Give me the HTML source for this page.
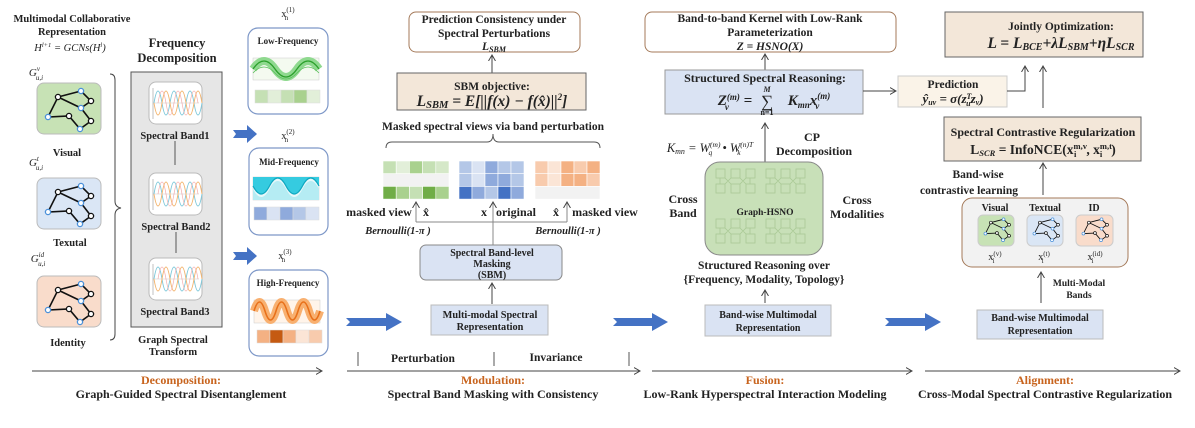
<!DOCTYPE html>
<html><head><meta charset="utf-8"><style>
html,body{margin:0;padding:0;background:#fff}
svg{display:block}
text{font-family:"Liberation Serif",serif;font-weight:bold;fill:#222;text-anchor:middle}
.it{font-style:italic}
.n{font-weight:normal}
</style></head><body>
<svg width="1195" height="428" viewBox="0 0 1195 428" xmlns="http://www.w3.org/2000/svg">
<defs>
<marker id="ah" markerWidth="8" markerHeight="8" refX="6" refY="4" orient="auto" markerUnits="userSpaceOnUse"><path d="M0,0.5 L6,4 L0,7.5" fill="none" stroke="#444" stroke-width="1"/></marker>
<g id="gr">
<path d="M18,12 L41,6 L51,16 L41,23 L51,36 L40,44 L29,31 L8,32 Z M18,12 L41,23" fill="none" stroke="#111" stroke-width="1.6"/>
<circle cx="18" cy="12" r="2.6" fill="#fff" stroke="#111" stroke-width="1.3"/>
<circle cx="51" cy="16" r="2.6" fill="#fff" stroke="#111" stroke-width="1.3"/>
<circle cx="51" cy="36" r="2.6" fill="#fff" stroke="#111" stroke-width="1.3"/>
<circle cx="29" cy="31" r="2.6" fill="#fff" stroke="#111" stroke-width="1.3"/>
<circle cx="41" cy="6" r="2.6" fill="#fff" stroke="#4a90d9" stroke-width="1.3"/>
<circle cx="41" cy="23" r="2.6" fill="#fff" stroke="#4a90d9" stroke-width="1.3"/>
<circle cx="8" cy="32" r="2.6" fill="#fff" stroke="#4a90d9" stroke-width="1.3"/>
<circle cx="40" cy="44" r="2.6" fill="#fff" stroke="#4a90d9" stroke-width="1.3"/>
</g>
<g id="wv">
<rect x="0" y="0" width="53" height="42" rx="7" fill="#fff" stroke="#bbb"/>
<line x1="4" y1="6" x2="4" y2="37" stroke="#999" stroke-width="0.6"/>
<line x1="4" y1="21" x2="50" y2="21" stroke="#ccc" stroke-width="0.6"/>
<path d="M5,21 q4,-24 8,0 t8,0 t8,0 t8,0 t8,0 t8,0" fill="none" stroke="#7cc7d9" stroke-width="0.9"/>
<path d="M5,21 q4,24 8,0 t8,0 t8,0 t8,0 t8,0 t8,0" fill="none" stroke="#f2b36b" stroke-width="0.9"/>
<path d="M9,21 q4,-24 8,0 t8,0 t8,0 t8,0 t8,0" fill="none" stroke="#e88" stroke-width="0.7" opacity="0.7"/>
</g>
<g id="hs">
<rect x="0" y="0" width="9" height="9" fill="none" stroke="#a9c995" stroke-width="0.8"/>
<rect x="15" y="0" width="9" height="9" fill="none" stroke="#a9c995" stroke-width="0.8"/>
<rect x="30" y="0" width="9" height="9" fill="none" stroke="#a9c995" stroke-width="0.8"/>
<rect x="0" y="15" width="9" height="9" fill="none" stroke="#a9c995" stroke-width="0.8"/>
<rect x="15" y="15" width="9" height="9" fill="none" stroke="#a9c995" stroke-width="0.8"/>
<rect x="30" y="15" width="9" height="9" fill="none" stroke="#a9c995" stroke-width="0.8"/>
<path d="M9,9 L15,15 M9,15 L15,9 M24,9 L30,15 M24,15 L30,9 M4,9 V15 M34,9 V15" stroke="#a9c995" stroke-width="0.8"/>
</g>
<g id="ba"><path d="M0,-4 H40 V-9 L56,0 L40,9 V4 H0 L4,0 Z" fill="#4472c4"/></g>
<g id="sa"><path d="M0,-4 H14 V-9 L24,0 L14,9 V4 H0 L3,0 Z" fill="#4472c4"/></g>
</defs>

<!-- ============ Section 1 ============ -->
<text x="72" y="22" font-size="10.5">Multimodal Collaborative</text>
<text x="72" y="35" font-size="10.5">Representation</text>
<text x="70" y="51" font-size="10.5" class="it n">H<tspan font-size="6.5" dy="-4">l+1</tspan><tspan dy="4"> = GCNs(H</tspan><tspan font-size="6.5" dy="-4">l</tspan><tspan dy="4">)</tspan></text>
<text x="36" y="76" font-size="11" class="it n">G<tspan font-size="7" dy="-5">v</tspan><tspan font-size="7" dx="-4" dy="9">u,i</tspan></text>
<text x="36" y="166" font-size="11" class="it n">G<tspan font-size="7" dy="-5">t</tspan><tspan font-size="7" dx="-3" dy="9">u,i</tspan></text>
<text x="38" y="262" font-size="11" class="it n">G<tspan font-size="7" dy="-5">id</tspan><tspan font-size="7" dx="-6" dy="9">u,i</tspan></text>
<rect x="37" y="83" width="64" height="51" rx="7" fill="#c7e2b5" stroke="#bbb"/>
<use href="#gr" x="40" y="85"/>
<rect x="37" y="178" width="64" height="51" rx="7" fill="#dae6f5" stroke="#bbb"/>
<use href="#gr" x="40" y="180"/>
<rect x="37" y="276" width="64" height="51" rx="7" fill="#f9dccb" stroke="#bbb"/>
<use href="#gr" x="40" y="278"/>
<text x="67" y="156" font-size="10.5">Visual</text>
<text x="70" y="246" font-size="10.5">Texutal</text>
<text x="68" y="346" font-size="10.5">Identity</text>
<path d="M110,74 q5,0 5,6 V201 q0,6 6,7 q-6,1 -6,7 V334 q0,6 -5,6" fill="none" stroke="#444" stroke-width="1"/>
<text x="177" y="47" font-size="12.5">Frequency</text>
<text x="177" y="62" font-size="12.5">Decomposition</text>
<rect x="131" y="72" width="91" height="255" fill="#e6e6e6" stroke="#555" stroke-width="1"/>
<use href="#wv" x="149" y="82"/>
<use href="#wv" x="149" y="173"/>
<use href="#wv" x="149" y="258"/>
<text x="175" y="139" font-size="10.5">Spectral Band1</text>
<text x="176" y="230" font-size="10.5">Spectral Band2</text>
<text x="175" y="315" font-size="10.5">Spectral Band3</text>
<line x1="175" y1="141" x2="175" y2="165" stroke="#555"/>
<line x1="176" y1="232" x2="176" y2="253" stroke="#555"/>
<text x="173" y="343" font-size="10.5">Graph Spectral</text>
<text x="173" y="355" font-size="10.5">Transform</text>
<use href="#sa" x="233" y="134"/>
<use href="#sa" x="233" y="256"/>

<text x="288" y="17" font-size="10" class="n">x<tspan font-size="7" dy="-5">(1)</tspan><tspan font-size="7" dx="-10" dy="8">n</tspan></text>
<text x="288" y="139" font-size="10" class="n">x<tspan font-size="7" dy="-5">(2)</tspan><tspan font-size="7" dx="-10" dy="8">n</tspan></text>
<text x="285" y="259" font-size="10" class="n">x<tspan font-size="7" dy="-5">(3)</tspan><tspan font-size="7" dx="-10" dy="8">n</tspan></text>

<rect x="248" y="28" width="80" height="86" rx="10" fill="#fff" stroke="#7e98c8" stroke-width="1.2"/>
<text x="288" y="44" font-size="9">Low-Frequency</text>
<rect x="253" y="58" width="66" height="22" fill="#f4faf0" stroke="#ccc" stroke-width="0.5"/>
<path d="M253,69 q11,-16 22,0 t22,0 t22,0" fill="none" stroke="#8fd98f" stroke-width="8"/>
<path d="M253,69 q11,-16 22,0 t22,0 t22,0" fill="none" stroke="#2ca02c" stroke-width="1.3"/>
<path d="M253,73 q11,-12 22,0 t22,0 t22,0" fill="none" stroke="#5cbf5c" stroke-width="0.8"/>
<g stroke="#ddd" stroke-width="0.5">
<rect x="255" y="90" width="13" height="13" fill="#c5e0b4"/><rect x="268" y="90" width="13" height="13" fill="#e2efd9"/><rect x="281" y="90" width="13" height="13" fill="#c5e0b4"/><rect x="294" y="90" width="13" height="13" fill="#a9d18e"/><rect x="307" y="90" width="13" height="13" fill="#e2efd9"/></g>

<rect x="249" y="148" width="79" height="87" rx="10" fill="#fff" stroke="#7e98c8" stroke-width="1.2"/>
<text x="289" y="165" font-size="9">Mid-Frequency</text>
<rect x="253" y="177" width="66" height="23" fill="#e8f8fa" stroke="#ccc" stroke-width="0.5"/>
<path d="M253,186 q8.25,16 16.5,0 t16.5,0 t16.5,0 t16.5,0 V177 H253 Z" fill="#35cbe0"/>
<path d="M253,189 q8.25,16 16.5,0 t16.5,0 t16.5,0 t16.5,0 V200 H253 Z" fill="#b5ecf3"/>
<path d="M253,186 q8.25,16 16.5,0 t16.5,0 t16.5,0 t16.5,0" fill="none" stroke="#10a8c0" stroke-width="1.2"/>
<g stroke="#ddd" stroke-width="0.5">
<rect x="254" y="207" width="13" height="13" fill="#8faadc"/><rect x="267" y="207" width="13" height="13" fill="#dae3f3"/><rect x="280" y="207" width="13" height="13" fill="#8faadc"/><rect x="293" y="207" width="13" height="13" fill="#b4c7e7"/><rect x="306" y="207" width="13" height="13" fill="#dae3f3"/></g>

<rect x="249" y="270" width="79" height="86" rx="10" fill="#fff" stroke="#7e98c8" stroke-width="1.2"/>
<text x="288" y="286" font-size="9">High-Frequency</text>
<rect x="254" y="300" width="66" height="23" fill="#fff4ea" stroke="#ccc" stroke-width="0.5"/>
<path d="M254,311 q5.5,-18 11,0 t11,0 t11,0 t11,0 t11,0 t11,0" fill="none" stroke="#f8b070" stroke-width="8"/>
<path d="M254,311 q5.5,-18 11,0 t11,0 t11,0 t11,0 t11,0 t11,0" fill="none" stroke="#e8701a" stroke-width="1.6"/>
<g stroke="#ddd" stroke-width="0.5">
<rect x="257" y="330" width="13" height="13" fill="#f4b183"/><rect x="270" y="330" width="13" height="13" fill="#c55a11"/><rect x="283" y="330" width="13" height="13" fill="#f4b183"/><rect x="296" y="330" width="13" height="13" fill="#fbe5d6"/><rect x="309" y="330" width="13" height="13" fill="#f8cbad"/></g>

<line x1="32" y1="371" x2="322" y2="371" stroke="#444" marker-end="url(#ah)"/>
<text x="181" y="384" font-size="12" style="fill:#c8641e">Decomposition:</text>
<text x="181" y="398" font-size="12">Graph-Guided Spectral Disentanglement</text>

<!-- ============ Section 2 ============ -->
<rect x="409" y="12" width="171" height="40" rx="7" fill="#fff" stroke="#a47a5a"/>
<text x="494" y="23" font-size="11.5">Prediction Consistency under</text>
<text x="494" y="37" font-size="11.5">Spectral Perturbations</text>
<text x="494" y="50" font-size="11.5" class="it">L<tspan font-size="8" dy="2">SBM</tspan></text>
<line x1="492" y1="73" x2="492" y2="55" stroke="#444" marker-end="url(#ah)"/>
<rect x="397" y="73" width="189" height="37" fill="#f3e7d9" stroke="#666"/>
<text x="492" y="90" font-size="11.5">SBM objective:</text>
<text x="492" y="106" font-size="15.5" class="it">L<tspan font-size="10.5" dy="2">SBM</tspan><tspan dy="-2"> = E[||f(x) − f(x̂)||</tspan><tspan font-size="9" dy="-6">2</tspan><tspan dy="6">]</tspan></text>
<text x="493" y="130" font-size="11.5">Masked spectral views via band perturbation</text>
<path d="M386,148 q0,-6 6,-6 H487 q6,0 6,-8 q0,8 6,8 H594 q6,0 6,6" fill="none" stroke="#555"/>
<g stroke="#fff" stroke-width="0.6">
<rect x="383" y="161" width="13.2" height="12.7" fill="#c5e0b4"/><rect x="396.2" y="161" width="13.2" height="12.7" fill="#e2efd9"/><rect x="409.4" y="161" width="13.2" height="12.7" fill="#a9d18e"/><rect x="422.6" y="161" width="13.2" height="12.7" fill="#c5e0b4"/><rect x="435.8" y="161" width="13.2" height="12.7" fill="#d5e8c8"/>
<rect x="383" y="173.7" width="66" height="12.7" fill="#f2f2f2"/>
<rect x="383" y="186.4" width="13.2" height="12.7" fill="#70ad47"/><rect x="396.2" y="186.4" width="13.2" height="12.7" fill="#a9d18e"/><rect x="409.4" y="186.4" width="13.2" height="12.7" fill="#c5e0b4"/><rect x="422.6" y="186.4" width="13.2" height="12.7" fill="#70ad47"/><rect x="435.8" y="186.4" width="13.2" height="12.7" fill="#a9d18e"/>
<rect x="459" y="161" width="13" height="12.7" fill="#b4c7e7"/><rect x="472" y="161" width="13" height="12.7" fill="#dae3f3"/><rect x="485" y="161" width="13" height="12.7" fill="#8faadc"/><rect x="498" y="161" width="13" height="12.7" fill="#b4c7e7"/><rect x="511" y="161" width="13" height="12.7" fill="#b4c7e7"/>
<rect x="459" y="173.7" width="13" height="12.7" fill="#b4c7e7"/><rect x="472" y="173.7" width="13" height="12.7" fill="#dae3f3"/><rect x="485" y="173.7" width="13" height="12.7" fill="#8faadc"/><rect x="498" y="173.7" width="13" height="12.7" fill="#8faadc"/><rect x="511" y="173.7" width="13" height="12.7" fill="#b4c7e7"/>
<rect x="459" y="186.4" width="13" height="12.7" fill="#4472c4"/><rect x="472" y="186.4" width="13" height="12.7" fill="#8faadc"/><rect x="485" y="186.4" width="13" height="12.7" fill="#b4c7e7"/><rect x="498" y="186.4" width="13" height="12.7" fill="#4472c4"/><rect x="511" y="186.4" width="13" height="12.7" fill="#8faadc"/>
<rect x="535" y="161" width="13" height="12.7" fill="#f8cbad"/><rect x="548" y="161" width="13" height="12.7" fill="#fbe5d6"/><rect x="561" y="161" width="13" height="12.7" fill="#f4b183"/><rect x="574" y="161" width="13" height="12.7" fill="#f8cbad"/><rect x="587" y="161" width="13" height="12.7" fill="#f4b183"/>
<rect x="535" y="173.7" width="13" height="12.7" fill="#f8cbad"/><rect x="548" y="173.7" width="13" height="12.7" fill="#fbe5d6"/><rect x="561" y="173.7" width="13" height="12.7" fill="#f4b183"/><rect x="574" y="173.7" width="13" height="12.7" fill="#f4b183"/><rect x="587" y="173.7" width="13" height="12.7" fill="#f8cbad"/>
<rect x="535" y="186.4" width="65" height="12.7" fill="#f2f2f2"/>
</g>
<path d="M416,222 H567" fill="none" stroke="#888"/>
<line x1="416" y1="222" x2="416" y2="202" stroke="#888" marker-end="url(#ah)"/>
<line x1="567" y1="222" x2="567" y2="202" stroke="#888" marker-end="url(#ah)"/>
<line x1="493" y1="245" x2="493" y2="202" stroke="#888" marker-end="url(#ah)"/>
<text x="379" y="216" font-size="12">masked view</text>
<text x="426" y="216" font-size="12">x̂</text>
<text x="484" y="216" font-size="12">x</text>
<text x="516" y="216" font-size="12">original</text>
<text x="556" y="216" font-size="12">x̂</text>
<text x="605" y="216" font-size="12">masked view</text>
<text x="398" y="234" font-size="10.5" class="it">Bernoulli(1-π )</text>
<text x="568" y="234" font-size="10.5" class="it">Bernoulli(1-π )</text>
<rect x="420" y="245" width="142" height="35" rx="6" fill="#dae3f3" stroke="#888"/>
<text x="492" y="256" font-size="10">Spectral Band-level</text>
<text x="492" y="267" font-size="10">Masking</text>
<text x="492" y="278" font-size="10">(SBM)</text>
<line x1="492" y1="304" x2="492" y2="283" stroke="#444" marker-end="url(#ah)"/>
<rect x="431" y="305" width="117" height="30" fill="#dae3f3" stroke="#bbb"/>
<text x="490" y="318" font-size="10.3">Multi-modal Spectral</text>
<text x="490" y="330" font-size="10.3">Representation</text>
<use href="#ba" x="346" y="322"/>
<path d="M613,318 H652 V313 L668,322 L652,331 V326 H613 L617,322 Z" fill="#4472c4"/>
<line x1="358" y1="352" x2="358" y2="366" stroke="#555"/>
<line x1="494" y1="352" x2="494" y2="366" stroke="#555"/>
<line x1="629" y1="352" x2="629" y2="366" stroke="#555"/>
<text x="423" y="362" font-size="11.5">Perturbation</text>
<text x="556" y="361" font-size="11.5">Invariance</text>
<line x1="347" y1="371" x2="640" y2="371" stroke="#444" marker-end="url(#ah)"/>
<text x="493" y="384" font-size="12" style="fill:#c8641e">Modulation:</text>
<text x="493" y="398" font-size="12">Spectral Band Masking with Consistency</text>

<!-- ============ Section 3 ============ -->
<rect x="645" y="12" width="251" height="40" rx="7" fill="#fff" stroke="#a47a5a"/>
<text x="770" y="22" font-size="11.5">Band-to-band Kernel with Low-Rank</text>
<text x="770" y="36" font-size="11.5">Parameterization</text>
<text x="770" y="50" font-size="11.5" class="it">Z = HSNO(X)</text>
<line x1="765" y1="70" x2="765" y2="54" stroke="#444" marker-end="url(#ah)"/>
<rect x="665" y="70" width="198" height="44" fill="#dae3f3" stroke="#999"/>
<text x="765" y="82" font-size="12">Structured Spectral Reasoning:</text>
<text x="735" y="105" font-size="15" class="it">Z<tspan font-size="9" dy="-5">(m)</tspan><tspan font-size="9" dx="-15" dy="10">v</tspan><tspan dx="11" dy="-5"> = </tspan></text>
<text x="767" y="107" font-size="17" class="n">∑</text>
<text x="767" y="92" font-size="8" class="it">M</text>
<text x="767" y="115" font-size="8">n=1</text>
<text x="809" y="105" font-size="15" class="it">K<tspan font-size="9" dy="3">mn</tspan><tspan dy="-3">x</tspan><tspan font-size="9" dy="-6">(m)</tspan><tspan font-size="9" dx="-15" dy="10">v</tspan></text>
<line x1="863" y1="91" x2="896" y2="91" stroke="#444" marker-end="url(#ah)"/>
<text x="710" y="152" font-size="12.5" class="n it">K<tspan font-size="8" dy="2">mn</tspan><tspan dy="-2"> = W</tspan><tspan font-size="7.5" dy="-5">(m)</tspan><tspan font-size="7.5" dx="-12" dy="8">q</tspan><tspan dx="7" dy="-3"> • W</tspan><tspan font-size="7.5" dy="-5">(n)T</tspan><tspan font-size="7.5" dx="-16" dy="8">k</tspan></text>
<text x="812" y="141" font-size="12">CP</text>
<text x="814" y="155" font-size="12">Decomposition</text>
<line x1="765" y1="162" x2="765" y2="123" stroke="#444" marker-end="url(#ah)"/>
<rect x="705" y="162" width="118" height="93" rx="15" fill="#c8e0b8" stroke="#888"/>
<use href="#hs" x="716" y="169"/><use href="#hs" x="766" y="169"/>
<use href="#hs" x="716" y="219"/><use href="#hs" x="766" y="219"/>
<text x="765" y="215" font-size="9.5">Graph-HSNO</text>
<text x="683" y="203" font-size="12">Cross</text>
<text x="683" y="217" font-size="12">Band</text>
<text x="857" y="204" font-size="12">Cross</text>
<text x="857" y="218" font-size="12">Modalities</text>
<text x="764" y="269" font-size="11.5">Structured Reasoning over</text>
<text x="764" y="283" font-size="11.5">{Frequency, Modality, Topology}</text>
<line x1="765" y1="303" x2="765" y2="290" stroke="#444" marker-end="url(#ah)"/>
<rect x="705" y="305" width="126" height="31" fill="#dae3f3" stroke="#bbb"/>
<text x="768" y="318" font-size="10">Band-wise Multimodal</text>
<text x="768" y="331" font-size="10">Representation</text>
<use href="#ba" x="885" y="322"/>
<line x1="652" y1="371" x2="912" y2="371" stroke="#444" marker-end="url(#ah)"/>
<text x="765" y="384" font-size="12" style="fill:#c8641e">Fusion:</text>
<text x="765" y="398" font-size="12">Low-Rank Hyperspectral Interaction Modeling</text>

<!-- ============ Section 4 ============ -->
<rect x="945" y="12" width="198" height="45" fill="#f3e7d9" stroke="#666"/>
<text x="1061" y="30" font-size="11.5">Jointly Optimization:</text>
<text x="1061" y="48" font-size="15.5" class="it">L = L<tspan font-size="10" dy="2">BCE</tspan><tspan dy="-2">+λL</tspan><tspan font-size="10" dy="2">SBM</tspan><tspan dy="-2">+ηL</tspan><tspan font-size="10" dy="2">SCR</tspan></text>
<rect x="898" y="76" width="109" height="31" fill="#faf3e8" stroke="#ccc"/>
<text x="953" y="88" font-size="11.5">Prediction</text>
<text x="953" y="103" font-size="13" class="it">ŷ<tspan font-size="8" dy="2">uv</tspan><tspan dy="-2"> = σ(z</tspan><tspan font-size="8" dy="-4">T</tspan><tspan font-size="8" dx="-5" dy="7">u</tspan><tspan dy="-3">z</tspan><tspan font-size="8" dy="2">v</tspan><tspan dy="-2">)</tspan></text>
<path d="M1007,91 H1025 V66" fill="none" stroke="#444" marker-end="url(#ah)"/>
<line x1="1043" y1="108" x2="1043" y2="66" stroke="#444" marker-end="url(#ah)"/>
<rect x="944" y="117" width="197" height="44" fill="#f3e7d9" stroke="#666"/>
<text x="1043" y="136" font-size="12">Spectral Contrastive Regularization</text>
<text x="1043" y="154" font-size="13.5">L<tspan font-size="8.5" dy="2" class="it">SCR</tspan><tspan dy="-2"> = InfoNCE(x</tspan><tspan font-size="8.5" dy="-5">m,v</tspan><tspan font-size="8.5" dx="-13" dy="8">i</tspan><tspan dx="10" dy="-3">, x</tspan><tspan font-size="8.5" dy="-5">m,t</tspan><tspan font-size="8.5" dx="-12" dy="8">i</tspan><tspan dx="9" dy="-3">)</tspan></text>
<line x1="1043" y1="195" x2="1043" y2="163" stroke="#444" marker-end="url(#ah)"/>
<text x="978" y="178" font-size="11.5">Band-wise</text>
<text x="969" y="194" font-size="11.5">contrastive learning</text>
<rect x="962" y="198" width="166" height="69" rx="10" fill="#f2f2f2" stroke="#a47a5a"/>
<text x="995" y="211" font-size="10">Visual</text>
<text x="1045" y="211" font-size="10">Textual</text>
<text x="1094" y="211" font-size="10">ID</text>
<rect x="978" y="215" width="36" height="31" rx="5" fill="#c7e2b5" stroke="#ccc"/>
<use href="#gr" transform="translate(981,216) scale(0.55)"/>
<rect x="1027" y="215" width="36" height="31" rx="5" fill="#dae6f5" stroke="#ccc"/>
<use href="#gr" transform="translate(1030,216) scale(0.55)"/>
<rect x="1076" y="215" width="37" height="31" rx="5" fill="#f9dccb" stroke="#ccc"/>
<use href="#gr" transform="translate(1079,216) scale(0.55)"/>
<text x="995" y="260" font-size="10" class="n">x<tspan font-size="7" dy="-4">(v)</tspan><tspan font-size="7" dx="-9" dy="7">i</tspan></text>
<text x="1044" y="260" font-size="10" class="n">x<tspan font-size="7" dy="-4">(t)</tspan><tspan font-size="7" dx="-8" dy="7">i</tspan></text>
<text x="1095" y="260" font-size="10" class="n">x<tspan font-size="7" dy="-4">(id)</tspan><tspan font-size="7" dx="-11" dy="7">i</tspan></text>
<line x1="1041" y1="303" x2="1041" y2="272" stroke="#444" marker-end="url(#ah)"/>
<text x="1079" y="286" font-size="9.5">Multi-Modal</text>
<text x="1079" y="298" font-size="9.5">Bands</text>
<rect x="977" y="310" width="126" height="29" fill="#dae3f3" stroke="#bbb"/>
<text x="1040" y="321" font-size="10">Band-wise Multimodal</text>
<text x="1040" y="334" font-size="10">Representation</text>
<line x1="925" y1="371" x2="1180" y2="371" stroke="#444" marker-end="url(#ah)"/>
<text x="1045" y="384" font-size="12" style="fill:#c8641e">Alignment:</text>
<text x="1045" y="398" font-size="12">Cross-Modal Spectral Contrastive Regularization</text>
</svg>
</body></html>
